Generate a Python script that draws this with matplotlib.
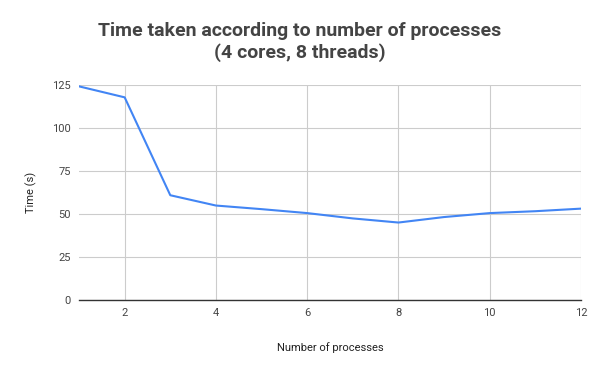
import matplotlib
matplotlib.use("Agg")
import matplotlib.pyplot as plt

LINE_C = "#4285F4"
TEXT_C = "#444444"
GRID_C = "#cccccc"

processes = [1, 2, 3, 4, 5, 6, 7, 8, 9, 10, 11, 12]
time_s = [124.4, 118.0, 61.0, 55.0, 52.9, 50.6, 47.5, 45.1, 48.3, 50.6, 51.7, 53.2]
x_ticks = [2, 4, 6, 8, 10, 12]
y_ticks = [0, 25, 50, 75, 100, 125]

plt.rcParams["font.family"] = ["Roboto", "DejaVu Sans"]

fig = plt.figure(figsize=(6, 3.71), dpi=100)
ax = fig.add_axes([0.1317, 0.1914, 0.8366, 0.5786])

ax.plot(processes, time_s, color=LINE_C, linewidth=1.5, zorder=3)

ax.set_xlim(1, 12)
ax.set_ylim(0, 125)
ax.set_xticks(x_ticks)
ax.set_yticks(y_ticks)
ax.grid(True, color=GRID_C, linewidth=0.8)
ax.tick_params(length=0, labelsize=8, colors=TEXT_C, pad=6)

for side in ["top", "right", "left"]:
    ax.spines[side].set_visible(False)
ax.spines["bottom"].set_color("#333333")
ax.spines["bottom"].set_linewidth(1.0)

ax.set_xlabel("Number of processes", fontsize=8, color="#222222", labelpad=17)
ax.set_ylabel("Time (s)", fontsize=8, color="#222222", labelpad=11)

fig.text(0.5, 0.887, "Time taken according to number of processes\n(4 cores, 8 threads)",
         ha="center", va="center", fontsize=14, fontweight="bold",
         color="#444444", linespacing=1.25)

fig.savefig("out.png", dpi=100, facecolor="white")
